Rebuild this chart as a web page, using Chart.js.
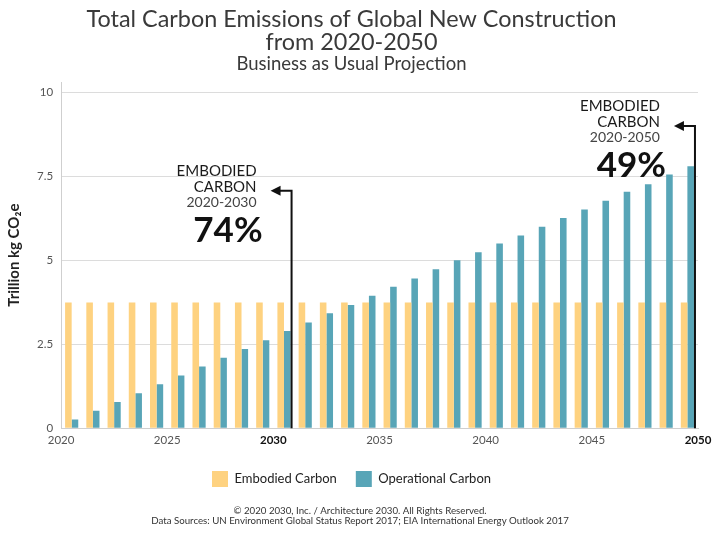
<!DOCTYPE html>
<html>
<head>
<meta charset="utf-8">
<script src="https://cdn.jsdelivr.net/npm/chart.js@4/dist/chart.umd.min.js"></script>
<style>
  html, body { margin: 0; padding: 0; background: #fff; }
  #wrap { width: 720px; height: 538px; }
</style>
</head>
<body>
<div id="wrap"><canvas id="myChart"></canvas></div>
<script>
// years shown as bars (one pair per year)
var years = [2020,2021,2022,2023,2024,2025,2026,2027,2028,2029,2030,2031,2032,2033,2034,
             2035,2036,2037,2038,2039,2040,2041,2042,2043,2044,2045,2046,2047,2048,2049];
// trillion kg CO2e
var embodied = [3.74,3.74,3.74,3.74,3.74,3.74,3.74,3.74,3.74,3.74,3.74,3.74,3.74,3.74,3.74,
                3.74,3.74,3.74,3.74,3.74,3.74,3.74,3.74,3.74,3.74,3.74,3.74,3.74,3.74,3.74];
var operational = [0.26,0.52,0.78,1.04,1.31,1.57,1.84,2.10,2.36,2.62,2.89,3.15,3.42,3.67,3.94,
                   4.21,4.46,4.73,5.00,5.24,5.50,5.74,6.00,6.26,6.51,6.77,7.04,7.26,7.55,7.80];
var yTicks = [0, 2.5, 5, 7.5, 10];
var boldYears = [2030, 2050];

// callouts: which bar the marker follows, arrow height, texts
var callouts = [
  { index: 10, arrowAt: 7.07, lines: ['EMBODIED', 'CARBON'], range: '2020-2030', pct: '74%' },
  { index: 29, arrowAt: 9.0, lines: ['EMBODIED', 'CARBON'], range: '2020-2050', pct: '49%' }
];

var FONT = 'Lato, "Open Sans", sans-serif';

function toPoints(vals) {
  // each bar sits in the middle of its year span
  return vals.map(function (v, i) { return { x: years[i] + 0.5, y: v }; });
}

function isBold(c) {
  return !!(c && c.tick && boldYears.indexOf(c.tick.value) >= 0);
}

var calloutPlugin = {
  id: 'callouts',
  afterDatasetsDraw: function (chart) {
    var ctx = chart.ctx;
    var yScale = chart.scales.y;
    var meta = chart.getDatasetMeta(1);
    callouts.forEach(function (c) {
      var bar = meta.data[c.index];
      var lx = bar.x + bar.width / 2 + 1;
      var ay = yScale.getPixelForValue(c.arrowAt);
      var by = yScale.getPixelForValue(0);
      ctx.save();
      ctx.strokeStyle = '#111';
      ctx.fillStyle = '#111';
      ctx.lineWidth = 2;
      ctx.beginPath();
      ctx.moveTo(lx, by);
      ctx.lineTo(lx, ay);
      ctx.lineTo(lx - 12, ay);
      ctx.stroke();
      ctx.beginPath();
      ctx.moveTo(lx - 21, ay);
      ctx.lineTo(lx - 11, ay - 5);
      ctx.lineTo(lx - 11, ay + 5);
      ctx.closePath();
      ctx.fill();

      var tx = lx - 35;
      ctx.textAlign = 'right';
      ctx.textBaseline = 'middle';
      ctx.fillStyle = '#1a1a1a';
      ctx.font = '15px ' + FONT;
      ctx.fillText(c.lines[0], tx, ay - 20);
      ctx.fillText(c.lines[1], tx, ay - 4);
      ctx.fillStyle = '#444';
      ctx.font = '14px ' + FONT;
      ctx.fillText(c.range, tx, ay + 12);
      ctx.fillStyle = '#111';
      ctx.font = 'bold 35px ' + FONT;
      ctx.fillText(c.pct, tx + 6, ay + 40);
      ctx.restore();
    });
  }
};

var footerPlugin = {
  id: 'footer',
  afterDraw: function (chart) {
    var ctx = chart.ctx;
    var cx = chart.width / 2;
    ctx.save();
    ctx.fillStyle = '#333';
    ctx.textAlign = 'center';
    ctx.textBaseline = 'middle';
    ctx.font = '9.7px ' + FONT;
    ctx.fillText('\u00A9 2020 2030, Inc. / Architecture 2030. All Rights Reserved.', cx, 511);
    ctx.fillText('Data Sources: UN Environment Global Status Report 2017; EIA International Energy Outlook 2017', cx, 521);
    ctx.restore();
  }
};

var ctx = document.getElementById('myChart');
var myChart = new Chart(ctx, {
  type: 'bar',
  data: {
    datasets: [
      {
        label: 'Embodied Carbon',
        data: toPoints(embodied),
        backgroundColor: '#FED280'
      },
      {
        label: 'Operational Carbon',
        data: toPoints(operational),
        backgroundColor: '#58A5B7'
      }
    ]
  },
  options: {
    responsive: true,
    maintainAspectRatio: false,
    animation: false,
    datasets: { bar: { categoryPercentage: 0.62, barPercentage: 1.0 } },
    layout: { padding: { left: 5, right: 22, top: 0, bottom: 41 } },
    scales: {
      x: {
        type: 'linear',
        min: 2020,
        max: 2050,
        offset: false,
        grid: { display: false, drawTicks: false, tickLength: 0 },
        border: { color: '#cfcfcf' },
        ticks: {
          stepSize: 5,
          padding: 5,
          maxRotation: 0,
          callback: function (v) { return String(v); },
          color: function (c) { return isBold(c) ? '#111' : '#555'; },
          font: function (c) {
            return { family: FONT, size: 11.5, weight: isBold(c) ? 'bold' : 'normal' };
          }
        }
      },
      y: {
        min: 0,
        max: 10.3,
        afterBuildTicks: function (scale) {
          scale.ticks = yTicks.map(function (v) { return { value: v }; });
        },
        grid: { color: '#dcdcdc', drawTicks: false },
        border: { color: '#cfcfcf' },
        ticks: {
          padding: 8,
          color: '#555',
          font: { family: FONT, size: 11.5 },
          callback: function (v) { return String(v); }
        },
        title: {
          display: true,
          text: 'Trillion kg CO\u2082e',
          color: '#222',
          font: { family: FONT, size: 15, weight: 'bold' },
          padding: { top: 0, bottom: 6 }
        }
      }
    },
    plugins: {
      title: {
        display: true,
        text: ['Total Carbon Emissions of Global New Construction', 'from 2020-2050'],
        color: '#3a3a3a',
        font: { family: FONT, size: 23.4, weight: 'normal', lineHeight: 0.98 },
        padding: { top: 8, bottom: 0 }
      },
      subtitle: {
        display: true,
        text: 'Business as Usual Projection',
        color: '#3a3a3a',
        font: { family: FONT, size: 18.5, weight: 'normal', lineHeight: 1.1 },
        padding: { top: 0, bottom: 8 }
      },
      legend: {
        position: 'bottom',
        labels: {
          boxWidth: 16,
          boxHeight: 16,
          padding: 19,
          color: '#222',
          font: { family: FONT, size: 13 }
        }
      },
      tooltip: { enabled: false }
    }
  },
  plugins: [calloutPlugin, footerPlugin]
});
</script>
</body>
</html>
